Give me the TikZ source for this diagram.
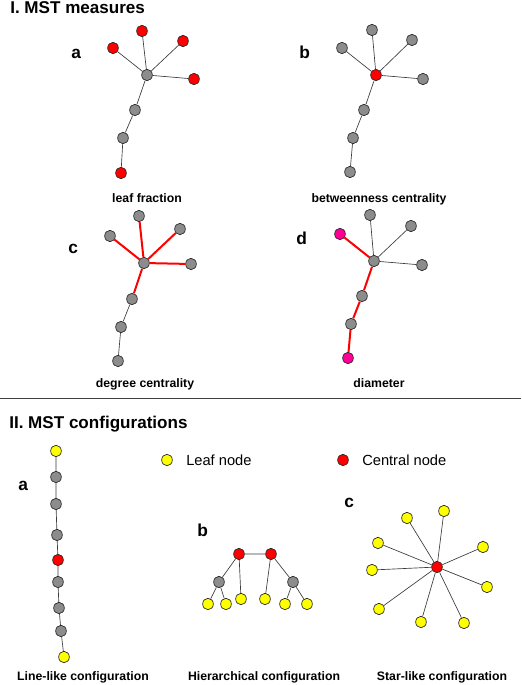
\documentclass[tikz,border=0pt]{standalone}
\usepackage{fontspec}
\setmainfont{Liberation Sans}
\usetikzlibrary{shapes.geometric}
\definecolor{mstgray}{RGB}{140,140,140}
\definecolor{mstred}{RGB}{255,0,0}
\definecolor{mstyellow}{RGB}{255,255,0}
\definecolor{mstpink}{RGB}{255,0,150}
\definecolor{mstedge}{RGB}{60,60,60}

\begin{document}
\begin{tikzpicture}[x=0.75pt, y=-0.75pt,
      vtx/.style={ellipse, draw=black!85, line width=0.5pt, minimum width=8pt, minimum height=8.6pt, inner sep=0pt, fill=mstgray},
      leafv/.style={vtx, fill=mstyellow},
      hubv/.style={vtx, fill=mstred},
      endv/.style={vtx, fill=mstpink},
      lnk/.style={draw=mstedge, line width=0.5pt},
      hot/.style={draw=mstred, line width=1.5pt},
      sectitle/.style={anchor=base west, inner sep=0pt, font=\fontsize{12.8}{15}\selectfont\bfseries},
      panel/.style={anchor=base west, inner sep=0pt, font=\fontsize{13}{15}\selectfont\bfseries},
      sublabel/.style={anchor=base, inner sep=0pt, font=\fontsize{9.2}{11}\selectfont\bfseries},
      legtext/.style={anchor=base west, inner sep=0pt, font=\fontsize{11}{13}\selectfont}
    ]
      \useasboundingbox (0,0) rectangle (521,685);

      % Part I: MST measures
      \node[sectitle] (t1) at (10,14) {I. MST measures};

      % a: leaf fraction
      \node[panel] (la) at (71,59) {a};
      \node[vtx] (a0) at (147,75) {};
      \node[hubv] (a1) at (113,48) {};
      \node[hubv] (a2) at (142,31) {};
      \node[hubv] (a3) at (183,41) {};
      \node[hubv] (a4) at (194,79) {};
      \node[vtx] (a5) at (135,110) {};
      \node[vtx] (a6) at (123,138) {};
      \node[hubv] (a7) at (121,173) {};
      \draw[lnk] (a0) -- (a1) (a0) -- (a2) (a0) -- (a3) (a0) -- (a4)
                 (a0) -- (a5) -- (a6) -- (a7);
      \node[sublabel] (ca) at (147,202) {leaf fraction};

      % b: betweenness centrality
      \node[panel] (lb) at (299,59) {b};
      \node[hubv] (b0) at (376,75) {};
      \node[vtx] (b1) at (342,48) {};
      \node[vtx] (b2) at (372,30) {};
      \node[vtx] (b3) at (412,40) {};
      \node[vtx] (b4) at (423,79) {};
      \node[vtx] (b5) at (364,110) {};
      \node[vtx] (b6) at (353,138) {};
      \node[vtx] (b7) at (350,172) {};
      \draw[lnk] (b0) -- (b1) (b0) -- (b2) (b0) -- (b3) (b0) -- (b4)
                 (b0) -- (b5) -- (b6) -- (b7);
      \node[sublabel] (cb) at (379,202) {betweenness centrality};

      % c: degree centrality
      \node[panel] (lc) at (68,253) {c};
      \node[vtx] (c0) at (144,263) {};
      \node[vtx] (c1) at (110,236) {};
      \node[vtx] (c2) at (139,216) {};
      \node[vtx] (c3) at (180,229) {};
      \node[vtx] (c4) at (191,264) {};
      \node[vtx] (c5) at (132,299) {};
      \node[vtx] (c6) at (121,327) {};
      \node[vtx] (c7) at (118,361) {};
      \draw[hot] (c0) -- (c1) (c0) -- (c2) (c0) -- (c3) (c0) -- (c4) (c0) -- (c5);
      \draw[lnk] (c5) -- (c6) -- (c7);
      \node[sublabel] (cc) at (145,387) {degree centrality};

      % d: diameter
      \node[panel] (ld) at (296,244) {d};
      \node[vtx] (d0) at (374,261) {};
      \node[endv] (d1) at (340,234) {};
      \node[vtx] (d2) at (370,215) {};
      \node[vtx] (d3) at (411,226) {};
      \node[vtx] (d4) at (422,265) {};
      \node[vtx] (d5) at (362,296) {};
      \node[vtx] (d6) at (351,324) {};
      \node[endv] (d7) at (348,358) {};
      \draw[lnk] (d0) -- (d2) (d0) -- (d3) (d0) -- (d4);
      \draw[hot] (d1) -- (d0) -- (d5) -- (d6) -- (d7);
      \node[sublabel] (cd) at (379,387) {diameter};

      \draw[draw=black!75, line width=0.75pt] (0,398) -- (521,398);

      % Part II: MST configurations
      \node[sectitle] (t2) at (9,428) {II. MST configurations};

      % legend
      \node[leafv] (kleaf) at (167,460) {};
      \node[legtext] (kleaft) at (186,465) {Leaf node};
      \node[hubv] (khub) at (343,460) {};
      \node[legtext] (khubt) at (362,465) {Central node};

      % a: line-like
      \node[panel] (lla) at (18,490) {a};
      \node[leafv] (p1) at (56,451) {};
      \node[vtx] (p2) at (56,477) {};
      \node[vtx] (p3) at (56,504) {};
      \node[vtx] (p4) at (57,535) {};
      \node[hubv] (p5) at (58,560) {};
      \node[vtx] (p6) at (58,582) {};
      \node[vtx] (p7) at (59,608) {};
      \node[vtx] (p8) at (61,631) {};
      \node[leafv] (p9) at (64,657) {};
      \draw[lnk] (p1) -- (p2) -- (p3) -- (p4) -- (p5) -- (p6) -- (p7) -- (p8) -- (p9);
      \node[sublabel] (cla) at (83,680) {Line-like configuration};

      % b: hierarchical
      \node[panel] (llb) at (197,536) {b};
      \node[hubv] (h1) at (239,554) {};
      \node[hubv] (h2) at (271,554) {};
      \node[vtx] (h3) at (219,582) {};
      \node[vtx] (h4) at (293,582) {};
      \node[leafv] (h5) at (208,604) {};
      \node[leafv] (h6) at (226,604) {};
      \node[leafv] (h7) at (241,599) {};
      \node[leafv] (h8) at (265,599) {};
      \node[leafv] (h9) at (285,604) {};
      \node[leafv] (h10) at (307,604) {};
      \draw[lnk] (h1) -- (h2) (h1) -- (h3) (h1) -- (h7) (h2) -- (h8) (h2) -- (h4)
                 (h3) -- (h5) (h3) -- (h6) (h4) -- (h9) (h4) -- (h10);
      \node[sublabel] (clb) at (264,680) {Hierarchical configuration};

      % c: star-like
      \node[panel] (llc) at (344,507) {c};
      \node[hubv] (s0) at (437,567) {};
      \node[leafv] (s1) at (407,518) {};
      \node[leafv] (s2) at (444,511) {};
      \node[leafv] (s3) at (483,547) {};
      \node[leafv] (s4) at (487,587) {};
      \node[leafv] (s5) at (464,623) {};
      \node[leafv] (s6) at (421,622) {};
      \node[leafv] (s7) at (379,609) {};
      \node[leafv] (s8) at (372,570) {};
      \node[leafv] (s9) at (378,543) {};
      \draw[lnk] (s0) -- (s1) (s0) -- (s2) (s0) -- (s3) (s0) -- (s4) (s0) -- (s5)
                 (s0) -- (s6) (s0) -- (s7) (s0) -- (s8) (s0) -- (s9);
      \node[sublabel] (clc) at (442,680) {Star-like configuration};
    \end{tikzpicture}
\end{document}
